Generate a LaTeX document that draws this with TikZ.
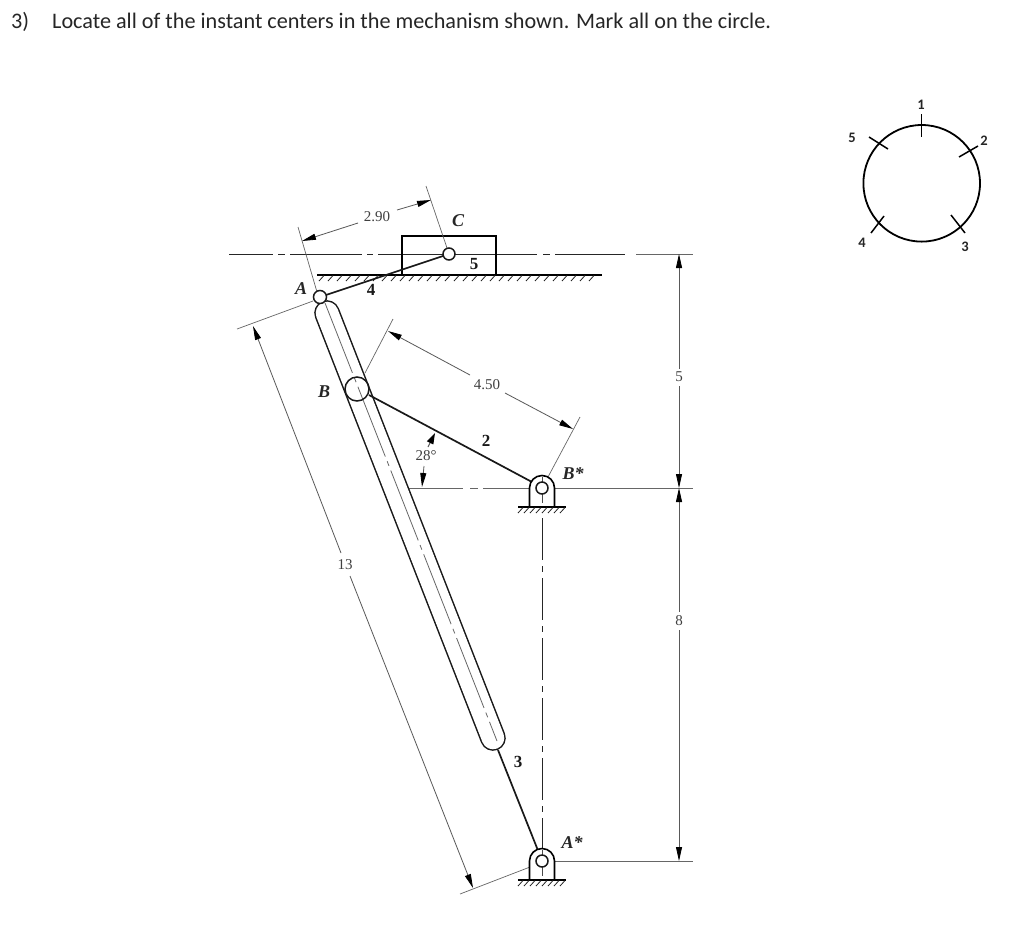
\documentclass[tikz,border=0pt]{standalone}
\usepackage{fontspec}
\setmainfont{Liberation Serif}
\newfontfamily\headfont{Carlito}
\usetikzlibrary{arrows.meta,calc}
\tikzset{
  link/.style={draw=black!90,line width=1.7pt},
  thin line/.style={draw=black!60,line width=0.7pt},
  dimline/.style={draw=black!65,line width=0.8pt,{Triangle[length=14pt,width=6pt,black]}-},
  dimlineb/.style={draw=black!65,line width=0.8pt,-{Triangle[length=14pt,width=6pt,black]}},
  centerline/.style={draw=black!85,line width=0.8pt},
  hatchline/.style={draw=black!85,line width=0.8pt},
  ground/.style={draw=black,line width=1.7pt},
  joint/.style={circle,draw=black!90,line width=1.5pt,fill=white,inner sep=0pt},
  dimlabel/.style={font=\fontsize{15}{15}\selectfont,text=black!75,inner sep=1pt},
  partlabel/.style={font=\fontsize{17}{17}\selectfont\bfseries,text=black!90,inner sep=0pt},
  namelabel/.style={font=\fontsize{18}{18}\selectfont\bfseries\itshape,text=black!85,inner sep=0pt},
  circlelabel/.style={font=\headfont\fontsize{14.5}{14.5}\selectfont\bfseries,text=black!85,inner sep=0pt},
  heading/.style={font=\headfont\fontsize{22.2}{22.2}\selectfont,text=black!85,inner sep=0pt,anchor=base west},
  tick/.style={draw=black,line width=1.5pt},
}
\begin{document}
\begin{tikzpicture}[x=1pt,y=-1pt]
\useasboundingbox[fill=white] (0,0) rectangle (1024,935);
% heading
\node[heading] (num) at (11,28) {3)};
\node[heading] (title) at (52,28) {Locate all of the instant centers in the mechanism shown. Mark all on the circle.};
% key points
\coordinate (A) at (320,297);
\coordinate (C) at (449,254);
\coordinate (Bp) at (357,389);
\coordinate (Bs) at (542,488);
\coordinate (As) at (542,861);
\coordinate (slotT) at (327,313);
\coordinate (slotB) at (493,738);
% center lines
\draw[centerline] (229,254) -- (273,254) (278,254) -- (285,254) (290,254) -- (362,254) (367,254) -- (373,254) (378,254) -- (537,254) (543,254) -- (550,254) (555,254) -- (625,254);
\draw[thin line] (403,488) -- (463,488) (470,488) -- (478,488) (483,488) -- (530,488) (555,488) -- (693,488);
\draw[thin line] (555,861) -- (693,861) (636,254) -- (693,254);
\draw[centerline,dash pattern=on 42pt off 6pt on 6pt off 6pt] (542,518) -- (542,850);
% ground
\draw[ground] (317,275) -- (602,275);
\foreach \x in {324,333,...,600} \draw[hatchline] (\x,275.5) -- (\x-5,281);
\draw[draw=black,line width=1.6pt] (402,274) -- (402,236) -- (496,236) -- (496,274);
% slider link
\draw[link] (A) -- (C);
% slot
\draw[black!90,line width=25.6pt,line cap=round] (slotT) -- (slotB);
\draw[white,line width=22.6pt,line cap=round] (slotT) -- (slotB);
\draw[centerline,draw=black!60,dash pattern=on 75pt off 5pt on 5pt off 5pt] (325,303) -- (497,741);
% links
\draw[link] (498,750) -- (539,853);
\draw[link] (369,395) -- (532,482);
% dimensions extension
\draw[thin line] (298,227) -- (317,292);
\draw[thin line] (426,186) -- (447,248);
\draw[thin line] (237,329) -- (313,301);
\draw[thin line] (460,894) -- (530,867);
\draw[thin line] (393,319) -- (365,373);
\draw[thin line] (580,417) -- (548,477);
% dimension lines
\draw[dimline] (302,241) -- (358,223);
\draw[dimlineb] (397,210) -- (431,200);
\draw[dimline] (388,331) -- (470,375);
\draw[dimlineb] (505,393) -- (573,429);
\draw[dimline] (253,326) -- (341,553);
\draw[dimlineb] (350,576) -- (473,888);
\draw[dimline] (679,254) -- (679,369);
\draw[dimlineb] (679,386) -- (679,488);
\draw[dimline] (679,488) -- (679,612);
\draw[dimlineb] (679,630) -- (679,861);
% angle
\draw[draw=black!65,line width=1pt,-{Triangle[length=11pt,width=7pt,black]}] (428,447) -- (435,433);
\draw[dimlineb] (424,466) -- (422,487);
% joints
\node[joint,minimum size=13pt] (jA) at (A) {};
\node[joint,minimum size=12pt] (jC) at (C) {};
\node[circle,draw=black!90,line width=1.5pt,minimum size=24pt,inner sep=0pt] (jB) at (Bp) {};
% supports
\foreach \p in {Bs,As}{
  \draw[draw=black,line width=1.6pt,fill=white] ($(\p)+(-12.5,18)$) -- ($(\p)+(-12.5,0)$) arc[start angle=180,end angle=360,radius=12.5] -- ($(\p)+(12.5,18)$);
  \draw[ground] ($(\p)+(-24,19)$) -- ($(\p)+(24,19)$);
  \foreach \d in {-19,-13,...,24} \draw[hatchline] ($(\p)+(\d,19.5)$) -- ($(\p)+(\d-5,25)$);
  \draw[line width=0.7pt,black!70] ($(\p)+(0,-11)$) -- ($(\p)+(0,15)$);
}
\node[joint,minimum size=12pt] (jBs) at (Bs) {};
\node[joint,minimum size=12pt] (jAs) at (As) {};
% labels
\node[dimlabel] (l290) at (377,217) {2.90};
\node[dimlabel] (l450) at (487,385) {4.50};
\node[dimlabel] (l13) at (345,565) {13};
\node[dimlabel] (l5) at (679,377) {5};
\node[dimlabel] (l8) at (679,621) {8};
\node[dimlabel] (l28) at (426,456) {28°};
\node[partlabel] (p2) at (486,441) {2};
\node[partlabel] (p3) at (518,762) {3};
\node[partlabel] (p4) at (371,290) {4};
\node[partlabel] (p5) at (474,264) {5};
\node[namelabel] (nA) at (301,289) {A};
\node[namelabel] (nB) at (324,392) {B};
\node[namelabel] (nC) at (458,221) {C};
\node[namelabel] (nBs) at (573,474) {B*};
\node[namelabel] (nAs) at (572,842) {A*};
% circle
\coordinate (O) at (921.7,183.3);
\draw[black,line width=1.8pt] (O) circle[radius=58.3];
\draw[tick] (921.3,114) -- (921.3,137);
\draw[tick] (869,137) -- (888,149);
\draw[tick] (959,157) -- (978,146);
\draw[tick] (951,215) -- (965,233);
\draw[tick] (884,216) -- (871,233);
\node[circlelabel] (c1) at (921,105) {1};
\node[circlelabel] (c2) at (984,141) {2};
\node[circlelabel] (c3) at (965,247) {3};
\node[circlelabel] (c4) at (862,243) {4};
\node[circlelabel] (c5) at (852,138) {5};
\end{tikzpicture}
\end{document}
